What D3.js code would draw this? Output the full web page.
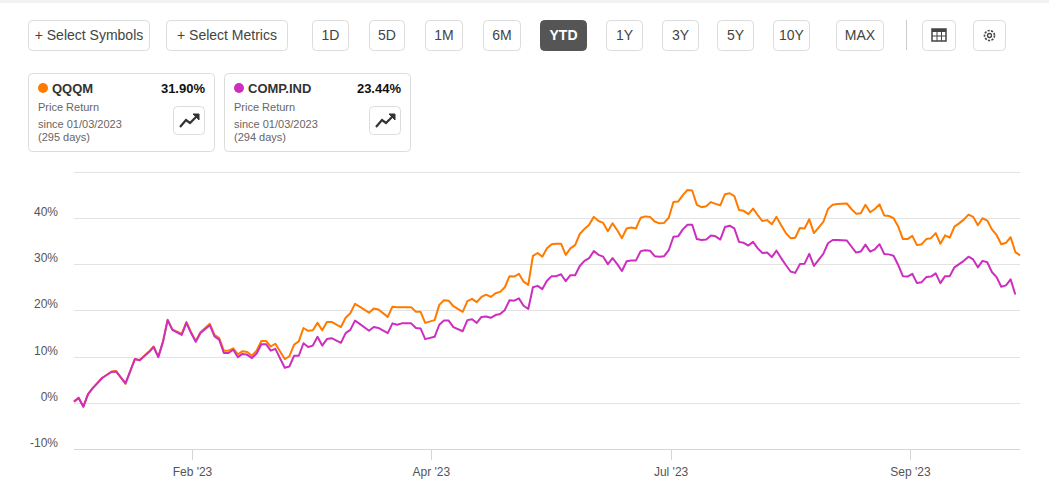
<!DOCTYPE html>
<html>
<head>
<meta charset="utf-8">
<script src="https://cdn.jsdelivr.net/npm/d3@7"></script>
<style>
  body { margin: 0; background: #fff; font-family: Arial, "Liberation Sans", sans-serif; }
  svg text { font-family: Arial, "Liberation Sans", sans-serif; }
</style>
</head>
<body>
<svg id="chart" width="1049" height="497"></svg>
<script>
// trading session index (0 = 01/03/2023) and returns in %
var qqqmSess = [0,1,2,3,4,6,8,9,11,13,14,16,17,18,19,20,21,23,24,25,26,27,29,30,31,32,33,34,35,36,37,38,39,40,41,42,43,45,46,47,48,49,
  50,51,52,53,54,55,57,58,59,60,61,63,64,65,67,68,69,70,72,73,74,75,77,78,79,80,81,83,84,85,86,87,88,89,90,91,92,93,94,95,96,97,98,99,100,101,
  102,103,104,105,106,107,108,109,110,111,112,113,114,115,116,117,118,119,120,121,122,123,124,125,126,127,128,129,130,131,132,133,134,135,136,137,138,139,140,141,142,143,144,145,146,147,148,149,150,151,152,153,154,
  155,156,157,158,159,160,161,162,163,165,166,167,168,169,170,171,172,173,174,175,176,177,178,179,180,181,182,183,184,185,186,187,188,189,190,191,192,193,194,195,196,197,198,199,200,201,202];
var qqqmVals = [0.3,1.1,-0.8,1.9,3.2,5.4,6.8,6.9,4.1,9.5,9.3,11.1,12.2,10.0,13.3,18.0,15.9,14.9,17.5,15.3,13.4,15.3,17.1,14.7,14.0,11.3,11.3,11.8,10.5,11.2,11.0,10.2,11.3,13.4,13.4,12.2,12.8,9.5,10.1,12.6,13.3,16.2,
  15.6,15.7,17.3,15.7,17.5,17.5,16.4,18.4,19.4,21.4,20.8,19.5,20.4,20.2,18.6,20.8,20.7,20.7,20.7,19.7,19.7,17.3,17.9,21.2,22.2,22.1,20.9,19.7,22.0,22.5,21.8,22.9,23.4,22.9,23.7,24.0,25.0,27.4,27.3,27.9,26.2,25.5,31.8,32.4,31.6,33.4,
  34.3,34.4,34.4,32.0,33.4,34.1,36.5,37.6,38.5,40.2,39.3,38.9,37.1,38.8,37.3,35.6,37.7,37.9,37.7,40.0,40.3,40.2,39.2,38.8,38.9,40.0,43.4,43.5,44.9,46.0,45.9,42.8,42.3,42.5,43.4,43.0,42.7,45.1,45.3,44.7,41.7,41.5,40.8,42.0,40.6,39.3,39.5,38.6,40.2,38.4,36.7,35.6,35.7,
  37.8,37.7,39.7,36.7,37.9,39.1,41.9,42.8,43.0,43.1,41.9,40.9,41.0,42.8,41.2,41.9,42.9,40.5,40.4,39.9,38.1,35.4,35.4,36.1,34.1,34.3,35.4,35.6,36.7,34.4,36.2,35.7,38.1,38.8,39.6,40.7,40.2,38.4,39.9,39.4,37.5,36.3,34.3,34.6,35.8,32.6,31.9];

var compSess = qqqmSess.slice(0, qqqmSess.length - 1);
var compVals = [0.3,1.1,-0.8,1.9,3.2,5.4,6.7,6.8,4.3,9.5,9.2,11.0,12.1,9.9,13.2,17.9,15.8,14.7,17.3,15.1,13.2,15.1,16.8,14.4,13.7,10.8,10.8,11.5,9.9,10.6,10.4,9.7,10.7,12.7,12.7,11.3,11.7,7.6,7.9,10.2,10.2,12.9,
  12.1,12.4,14.3,12.4,13.8,14.0,13.0,15.1,15.8,17.8,17.1,15.6,16.4,16.2,15.1,17.2,16.9,17.2,17.2,16.2,16.1,13.8,14.3,16.9,17.8,17.8,16.4,15.5,17.9,18.1,17.3,18.6,18.7,18.4,19.0,19.2,20.1,22.2,22.1,22.6,21.0,20.3,25.0,25.3,24.6,26.4,
  27.4,27.4,27.8,26.3,27.6,27.6,29.6,30.7,31.3,32.8,32.0,31.6,30.0,31.3,30.0,28.5,30.6,30.8,30.8,32.8,33.0,32.9,31.7,31.6,31.7,33.0,35.9,36.0,37.5,38.5,38.5,35.4,35.2,35.3,36.2,36.0,35.3,38.0,38.3,37.7,34.8,34.6,34.0,34.8,33.4,32.4,32.5,31.5,32.9,31.3,29.8,28.4,28.1,
  30.0,30.1,32.2,29.6,30.9,32.2,34.5,35.2,35.2,35.1,33.8,32.5,32.7,34.2,32.7,33.2,34.3,32.2,32.1,31.8,29.8,27.4,27.3,27.9,25.9,26.1,27.2,27.3,28.0,25.9,27.4,27.4,29.3,30.0,30.7,31.6,31.0,29.3,30.7,30.4,28.3,27.2,25.1,25.4,26.7,23.44];

var yTicks = [-10, 0, 10, 20, 30, 40, 50];
var xTickLabels = ["Feb '23", "Apr '23", "Jul '23", "Sep '23"];
var xTickSess = [25.3, 76.3, 127.5, 178.6];
var rangeButtons = ["1D","5D","1M","6M","YTD","1Y","3Y","5Y","10Y","MAX"];

var ORANGE = "#ff7b00", MAGENTA = "#cc2fbf";
var svg = d3.select("#chart");

// top light strip
svg.append("rect").attr("x",0).attr("y",0).attr("width",1049).attr("height",3).attr("fill","#f4f2f1");

function button(x, w, label, active) {
  var g = svg.append("g").attr("transform","translate("+x+",20)");
  g.append("rect").attr("x",0.5).attr("y",0.5).attr("width",w).attr("height",30).attr("rx",4)
    .attr("fill", active ? "#555" : "#fff").attr("stroke", active ? "#555" : "#dcdcdc");
  if (label) g.append("text").attr("x",w/2+0.5).attr("y",20).attr("text-anchor","middle")
    .attr("font-size",14).attr("font-weight", active ? "bold" : "normal")
    .attr("fill", active ? "#fff" : "#444").text(label);
  return g;
}
button(28, 121, "+ Select Symbols");
button(166, 121, "+ Select Metrics");
var bx = [312,369,425,483,540,606,662,717,773,836];
var bw = [36,35,37,37,46,36,36,36,36,47];
rangeButtons.forEach(function(l,i){ button(bx[i], bw[i], l, l === "YTD"); });
svg.append("line").attr("x1",906.5).attr("x2",906.5).attr("y1",20).attr("y2",50).attr("stroke","#ccc");
var tb = button(922, 33, "");
tb.append("rect").attr("x",10).attr("y",9).attr("width",14).attr("height",12).attr("fill","none").attr("stroke","#444").attr("stroke-width",1.5);
tb.append("rect").attr("x",10).attr("y",9).attr("width",14).attr("height",3).attr("fill","#444");
tb.append("line").attr("x1",10).attr("x2",24).attr("y1",16).attr("y2",16).attr("stroke","#444");
tb.append("line").attr("x1",15).attr("x2",15).attr("y1",12).attr("y2",21).attr("stroke","#444");
tb.append("line").attr("x1",19.5).attr("x2",19.5).attr("y1",12).attr("y2",21).attr("stroke","#444");
var gb = button(973, 32, "");
gb.append("circle").attr("cx",16.5).attr("cy",15.5).attr("r",5).attr("fill","none").attr("stroke","#444").attr("stroke-width",1.6).attr("stroke-dasharray","2.2 1.3");
gb.append("circle").attr("cx",16.5).attr("cy",15.5).attr("r",2).attr("fill","none").attr("stroke","#444").attr("stroke-width",1.3);

// legend cards
function card(x, color, name, ret, days) {
  var g = svg.append("g").attr("transform","translate("+x+",73)");
  g.append("rect").attr("x",0.5).attr("y",0.5).attr("width",186).attr("height",78).attr("rx",4).attr("fill","#fff").attr("stroke","#dcdcdc");
  g.append("circle").attr("cx",15).attr("cy",15).attr("r",5).attr("fill",color);
  g.append("text").attr("x",24).attr("y",20).attr("font-size",13).attr("font-weight","bold").attr("fill","#333").text(name);
  g.append("text").attr("x",177).attr("y",20).attr("text-anchor","end").attr("font-size",13).attr("font-weight","bold").attr("fill","#111").text(ret);
  g.append("text").attr("x",10).attr("y",38).attr("font-size",11).attr("fill","#666").text("Price Return");
  g.append("text").attr("x",10).attr("y",55).attr("font-size",11).attr("fill","#666").text("since 01/03/2023");
  g.append("text").attr("x",10).attr("y",68).attr("font-size",11).attr("fill","#666").text(days);
  g.append("rect").attr("x",145.5).attr("y",33.5).attr("width",31).attr("height",28).attr("rx",4).attr("fill","#fff").attr("stroke","#dcdcdc");
  g.append("path").attr("d","M152,54 L158,47 L162,50 L170,42").attr("fill","none").attr("stroke","#333").attr("stroke-width",2.2);
  g.append("path").attr("d","M165,41 L171,41 L171,47 Z").attr("fill","#333").attr("stroke","#333").attr("stroke-width",1);
}
card(28, ORANGE, "QQQM", "31.90%", "(295 days)");
card(224, MAGENTA, "COMP.IND", "23.44%", "(294 days)");

// chart
var x = d3.scaleLinear().domain([0, 202]).range([74, 1020]);
var y = d3.scaleLinear().domain([-10, 50]).range([449.3, 171.5]);

svg.append("g").selectAll("line").data(yTicks).enter().append("line")
  .attr("x1",74).attr("x2",1020).attr("y1",function(d){return Math.round(y(d))+0.5;}).attr("y2",function(d){return Math.round(y(d))+0.5;})
  .attr("stroke", function(d){ return d === -10 ? "#d6d6d6" : "#e3e3e3"; }).attr("stroke-width",1.2);
svg.append("g").selectAll("text").data(yTicks.filter(function(d){return d < 50;})).enter().append("text")
  .attr("x",58).attr("y",function(d){return y(d)-2;}).attr("text-anchor","end")
  .attr("font-size",12).attr("fill","#555").text(function(d){return d + "%";});

svg.append("g").selectAll("line").data(xTickSess).enter().append("line")
  .attr("x1",function(d){return Math.round(x(d))+0.5;}).attr("x2",function(d){return Math.round(x(d))+0.5;})
  .attr("y1",450).attr("y2",460).attr("stroke","#d6d6d6");
svg.append("g").selectAll("text").data(xTickLabels).enter().append("text")
  .attr("x",function(d,i){return x(xTickSess[i]);}).attr("y",476).attr("text-anchor","middle")
  .attr("font-size",12).attr("fill","#555").text(function(d){return d;});

var line = d3.line().x(function(d){return x(d[0]);}).y(function(d){return y(d[1]);});
svg.append("path").datum(d3.zip(qqqmSess, qqqmVals)).attr("d", line)
  .attr("fill","none").attr("stroke",ORANGE).attr("stroke-width",2).attr("stroke-linejoin","round");
svg.append("path").datum(d3.zip(compSess, compVals)).attr("d", line)
  .attr("fill","none").attr("stroke",MAGENTA).attr("stroke-width",2).attr("stroke-linejoin","round");
</script>
</body>
</html>
